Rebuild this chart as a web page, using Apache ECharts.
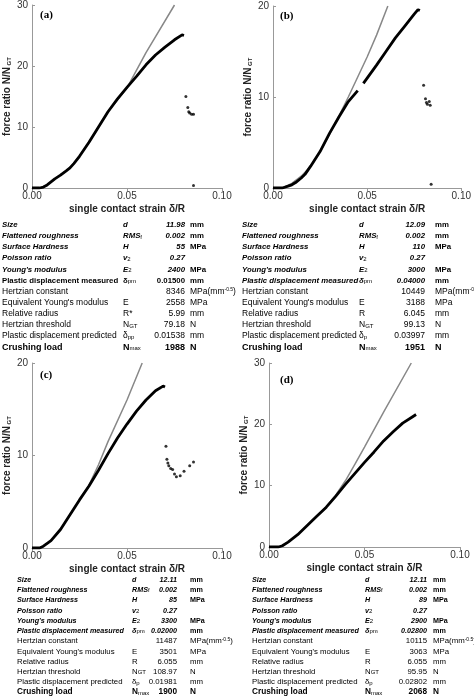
<!DOCTYPE html>
<html><head><meta charset="utf-8">
<script src="https://cdn.jsdelivr.net/npm/echarts@6/dist/echarts.min.js"></script>
<style>html,body{margin:0;padding:0;background:#fff}#c{width:474px;height:698px}</style>
</head><body><div id="c"></div>
<script>
// ---- data ----
const aBlack=[[0,0],[0.004,0],[0.006,0.15],[0.008,0.5],[0.01,1],[0.012,1.5],[0.015,2.1],[0.018,2.8],[0.02,3.3],[0.022,4],[0.025,5.2],[0.03,7.5],[0.035,10],[0.04,12.5],[0.045,14.6],[0.05,16.5],[0.055,18.3],[0.06,20.2],[0.065,21.8],[0.07,23.1],[0.075,24.3],[0.079,25.1],[0.08,25]];
const aGray=[[0,0],[0.004,0],[0.006,0.15],[0.008,0.5],[0.012,1.5],[0.018,2.8],[0.022,4],[0.03,7.5],[0.04,12.5],[0.05,16.4],[0.06,22.2],[0.075,30]];
const aDots=[[0.081,15],[0.082,13.2],[0.0825,12.5],[0.083,12.3],[0.084,12.1],[0.085,12.1],[0.085,0.4]];
const bBlack1=[[0,0],[0.005,0],[0.008,0.2],[0.01,0.35],[0.012,0.6],[0.015,1.1],[0.017,1.5],[0.02,2.4],[0.025,4],[0.03,6],[0.035,7.8],[0.04,9.5],[0.045,10.7]];
const bBlack2=[[0.048,11.5],[0.055,13.5],[0.06,15],[0.065,16.5],[0.07,17.8],[0.075,19.1],[0.077,19.6],[0.078,19.5]];
const bGray=[[0,0],[0.005,0],[0.01,0.5],[0.015,1.3],[0.02,2.4],[0.025,4],[0.03,5.9],[0.035,7.9],[0.04,10],[0.045,12.2],[0.05,14.4],[0.055,16.8],[0.061,20]];
const bDots=[[0.080,11.3],[0.081,9.8],[0.0815,9.4],[0.082,9.2],[0.083,9.5],[0.0835,9.1],[0.084,0.4]];
const cBlack=[[0,0],[0.004,0],[0.006,0.2],[0.008,0.5],[0.01,0.8],[0.015,2],[0.02,3.6],[0.025,5.2],[0.03,6.7],[0.035,8.4],[0.04,10.2],[0.045,11.9],[0.05,13.4],[0.055,14.8],[0.06,16],[0.065,17],[0.069,17.5],[0.07,17.4]];
const cGray=[[0,0],[0.004,0],[0.006,0.2],[0.008,0.5],[0.01,0.8],[0.015,2],[0.02,3.6],[0.025,5.2],[0.03,6.8],[0.035,9],[0.04,11.5],[0.05,16],[0.058,20]];
const cDots=[[0.0705,11],[0.071,9.6],[0.0715,9.2],[0.072,8.9],[0.073,8.6],[0.074,8.5],[0.075,8.0],[0.076,7.7],[0.078,7.8],[0.08,8.3],[0.083,8.9],[0.085,9.3]];
const dBlack=[[0,0],[0.005,0],[0.007,0.2],[0.01,0.8],[0.015,2],[0.02,3.5],[0.025,5],[0.03,6.5],[0.035,8.3],[0.04,10.2],[0.045,12],[0.05,13.8],[0.055,15.5],[0.06,17.3],[0.065,18.8],[0.07,20.2],[0.075,21.2],[0.077,21.6]];
const dGray=[[0,0],[0.005,0],[0.007,0.2],[0.01,0.8],[0.015,2],[0.02,3.5],[0.025,5],[0.03,6.6],[0.035,8.5],[0.04,10.8],[0.045,13.5],[0.05,16.3],[0.06,22],[0.0745,30]];
const yMax=[30,20,20,30];
const panelLabels=['(a)','(b)','(c)','(d)'];
const rowLabels=['Size','Flattened roughness','Surface Hardness','Poisson ratio',"Young's modulus",'Plastic displacement measured','Hertzian constant',"Equivalent Young's modulus",'Relative radius','Hertzian threshold','Plastic displacement predicted','Crushing load'];
const rowSymbolsA=['d','RMS{s|f}','H','v{s|2}','E{s|2}','δ{s|pm}','','E','R*','N{s|GT}','δ{s|pp}','N{s|max}'];
const rowSymbolsB=['d','RMS{s|f}','H','v{s|2}','E{s|2}','δ{s|pm}','','E','R','N{s|GT}','δ{s|p}','N{s|max}'];
const rowUnits=['mm','mm','MPa','','MPa','mm','MPa(mm{u|-0.5})','MPa','mm','N','mm','N'];
const valsA=['11.98','0.002','55','0.27','2400','0.01500','8346','2558','5.99','79.18','0.01538','1988'];
const valsB=['12.09','0.002','110','0.27','3000','0.04000','10449','3188','6.045','99.13','0.03997','1951'];
const valsC=['12.11','0.002','85','0.27','3300','0.02000','11487','3501','6.055','108.97','0.01981','1900'];
const valsD=['12.11','0.002','89','0.27','2900','0.02800','10115','3063','6.055','95.95','0.02802','2068'];

// ---- layout ----
const grids=[
 {left:32,width:190,top:5,height:183},
 {left:273,width:189,top:6,height:182},
 {left:32,width:190,top:363,height:185},
 {left:269,width:191,top:363,height:184}];
const font='Liberation Sans, Arial, sans-serif';
const xAxes=grids.map((g,i)=>({gridIndex:i,type:'value',min:0,max:0.1,interval:0.05,
 name:'single contact strain δ/R',nameLocation:'middle',nameGap:16,
 nameTextStyle:{fontFamily:font,fontSize:10,fontWeight:'bold',color:'#222'},
 axisLine:{lineStyle:{color:'#999'}},axisTick:{length:3,lineStyle:{color:'#999'}},splitLine:{show:false},
 axisLabel:{fontFamily:font,fontSize:10,color:'#333',margin:3,formatter:v=>v.toFixed(2)}}));
const yAxes=grids.map((g,i)=>({gridIndex:i,type:'value',min:0,max:yMax[i],interval:10,
 name:'force ratio N/N{s| GT}',nameLocation:'middle',nameGap:20,nameRotate:90,
 nameTextStyle:{fontFamily:font,fontSize:10,fontWeight:'bold',color:'#222',rich:{s:{fontSize:6,fontWeight:'bold',verticalAlign:'bottom',padding:[4,0,0,0],fontFamily:font}}},
 axisLine:{show:true,lineStyle:{color:'#999'}},axisTick:{show:true,inside:true,length:3,lineStyle:{color:'#999'}},splitLine:{show:false},
 axisLabel:{fontFamily:font,fontSize:10,color:'#333',margin:4}}));
const line=(i,d,c,w)=>({type:'line',xAxisIndex:i,yAxisIndex:i,data:d,showSymbol:false,smooth:false,lineStyle:{color:c,width:w},silent:true,z:c==='#000'?3:2});
const dots=(i,d)=>({type:'scatter',xAxisIndex:i,yAxisIndex:i,data:d,symbolSize:3,itemStyle:{color:'#000'},silent:true});
const series=[line(0,aGray,'#888',1.5),line(0,aBlack,'#000',2.8),dots(0,aDots),
 line(1,bGray,'#888',1.5),line(1,bBlack1,'#000',2.8),line(1,bBlack2,'#000',2.8),dots(1,bDots),
 line(2,cGray,'#888',1.5),line(2,cBlack,'#000',2.8),dots(2,cDots),
 line(3,dGray,'#888',1.5),line(3,dBlack,'#000',2.8)];

const graphic=[];
const plabPos=[[40,10],[280,11],[40,370],[280,375]];
panelLabels.forEach((t,i)=>graphic.push({type:'text',x:plabPos[i][0],y:plabPos[i][1],style:{text:t,font:'bold 11px "Liberation Serif", serif',fill:'#000'}}));
const tables=[
 {vals:valsA,syms:rowSymbolsA,y0:225,dy:11.1,xl:2,xs:123,xv:185,xu:190,k:1},
 {vals:valsB,syms:rowSymbolsB,y0:225,dy:11.1,xl:242,xs:359,xv:425,xu:435,k:1},
 {vals:valsC,syms:rowSymbolsB,y0:580,dy:10.2,xl:17,xs:132,xv:177,xu:190,k:0.92},
 {vals:valsD,syms:rowSymbolsB,y0:580,dy:10.2,xl:252,xs:365,xv:427,xu:433,k:0.92}];
const rich={s:{fontSize:6,fontFamily:font,verticalAlign:'bottom'},u:{fontSize:5,verticalAlign:'top',fontFamily:font}};
tables.forEach((t,ti)=>{
 rowLabels.forEach((lab,r)=>{
  const y=t.y0+r*t.dy;
  let w='normal',st='normal',sz=8.5;
  if(r<6){w='bold';st=(r===5&&ti===0)?'normal':'italic';sz=7.8;}
  if(r===11){w='bold';sz=9;}
  sz=(sz*t.k).toFixed(2);
  const f=st+' '+w+' '+sz+'px '+font;
  graphic.push({type:'text',x:t.xl,y:y,style:{text:lab,font:f,fill:'#000',verticalAlign:'middle'}});
  graphic.push({type:'text',x:t.xs,y:y,style:{text:t.syms[r],font:f,fill:'#000',verticalAlign:'middle',rich:rich}});
  graphic.push({type:'text',x:t.xv,y:y,style:{text:t.vals[r],font:f,fill:'#000',align:'right',verticalAlign:'middle'}});
  graphic.push({type:'text',x:t.xu,y:y,style:{text:rowUnits[r],font:(r<6||r===11?'bold ':'')+sz+'px '+font,fill:'#000',verticalAlign:'middle',rich:rich}});
 });
});

const chart=echarts.init(document.getElementById('c'));
chart.setOption({animation:false,grid:grids,xAxis:xAxes,yAxis:yAxes,series:series,graphic:graphic});
</script></body></html>
